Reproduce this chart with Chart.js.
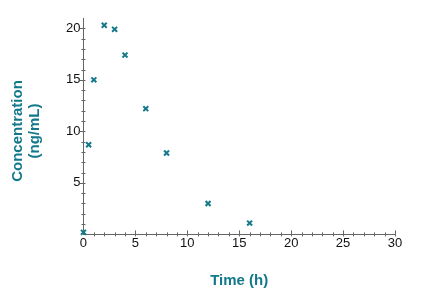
<!DOCTYPE html>
<html>
<head>
<meta charset="utf-8">
<script src="https://cdn.jsdelivr.net/npm/chart.js@4"></script>
<style>
  html, body { margin: 0; padding: 0; background: #fff; }
  #wrap { width: 425px; height: 300px; }
</style>
</head>
<body>
<div id="wrap"><canvas id="pkChart"></canvas></div>
<script>
const timeHours = [0, 0.5, 1, 2, 3, 4, 6, 8, 12, 16];
const concentration = [0.2, 8.7, 15.0, 20.3, 19.9, 17.4, 12.2, 7.9, 3.0, 1.1];
const xTickLabels = [0, 5, 10, 15, 20, 25, 30];
const yTickLabels = [5, 10, 15, 20];

const teal = '#12788a';
const axisGray = '#666';

// minor/major tick marks and the y axis title
const tickMarks = {
    id: 'tickMarks',
    afterDraw(chart) {
        const { ctx, scales: { x, y } } = chart;
        ctx.save();
        ctx.strokeStyle = axisGray;
        ctx.lineWidth = 1;
        const y0 = y.getPixelForValue(0);
        const x0 = x.getPixelForValue(0);
        for (let v = 1; v <= 30; v++) {
            const px = Math.round(x.getPixelForValue(v)) + 0.5;
            const major = xTickLabels.includes(v);
            ctx.beginPath();
            ctx.moveTo(px, y0 - (major ? 4 : 2));
            ctx.lineTo(px, y0 + 2);
            ctx.stroke();
        }
        for (let v = 1; v <= 20; v++) {
            const py = Math.round(y.getPixelForValue(v)) + 0.5;
            const major = yTickLabels.includes(v);
            ctx.beginPath();
            ctx.moveTo(x0 - (major ? 4 : 2), py);
            ctx.lineTo(x0 + 2, py);
            ctx.stroke();
        }
        ctx.fillStyle = teal;
        ctx.font = 'bold 15px "Liberation Sans", Arial, sans-serif';
        ctx.textAlign = 'center';
        ctx.textBaseline = 'middle';
        ctx.translate(26, 131);
        ctx.rotate(-Math.PI / 2);
        ctx.fillText('Concentration', 0, -8);
        ctx.fillText('(ng/mL)', 0, 9);
        ctx.restore();
    }
};

const ctx = document.getElementById('pkChart').getContext('2d');
const pkChart = new Chart(ctx, {
    type: 'scatter',
    data: {
        datasets: [{
            label: 'Concentration',
            data: timeHours.map((t, i) => ({ x: t, y: concentration[i] })),
            pointStyle: 'crossRot',
            pointRadius: 3.5,
            pointBorderWidth: 2,
            borderColor: teal,
            backgroundColor: teal
        }]
    },
    options: {
        responsive: true,
        maintainAspectRatio: false,
        animation: false,
        clip: false,
        layout: { padding: { left: 63, right: 30, top: 18, bottom: 10 } },
        plugins: {
            legend: { display: false },
            tooltip: { enabled: false }
        },
        scales: {
            x: {
                type: 'linear',
                min: 0,
                max: 30,
                grid: { display: false, drawTicks: false },
                border: { display: true, color: axisGray, width: 1 },
                ticks: {
                    stepSize: 5,
                    autoSkip: false,
                    maxRotation: 0,
                    padding: 1,
                    color: '#111',
                    font: { family: '"Liberation Sans", Arial, sans-serif', size: 13 }
                },
                title: {
                    display: true,
                    text: 'Time (h)',
                    color: teal,
                    padding: { top: 20, bottom: 0 },
                    font: { family: '"Liberation Sans", Arial, sans-serif', size: 15, weight: 'bold' }
                }
            },
            y: {
                type: 'linear',
                min: 0,
                max: 21,
                grid: { display: false, drawTicks: false },
                border: { display: true, color: axisGray, width: 1 },
                afterBuildTicks(scale) {
                    scale.ticks = [0].concat(yTickLabels).map(v => ({ value: v }));
                },
                ticks: {
                    autoSkip: false,
                    padding: 3,
                    color: '#111',
                    font: { family: '"Liberation Sans", Arial, sans-serif', size: 13 },
                    callback: v => (v === 0 ? '' : v)
                }
            }
        }
    },
    plugins: [tickMarks]
});
</script>
</body>
</html>
